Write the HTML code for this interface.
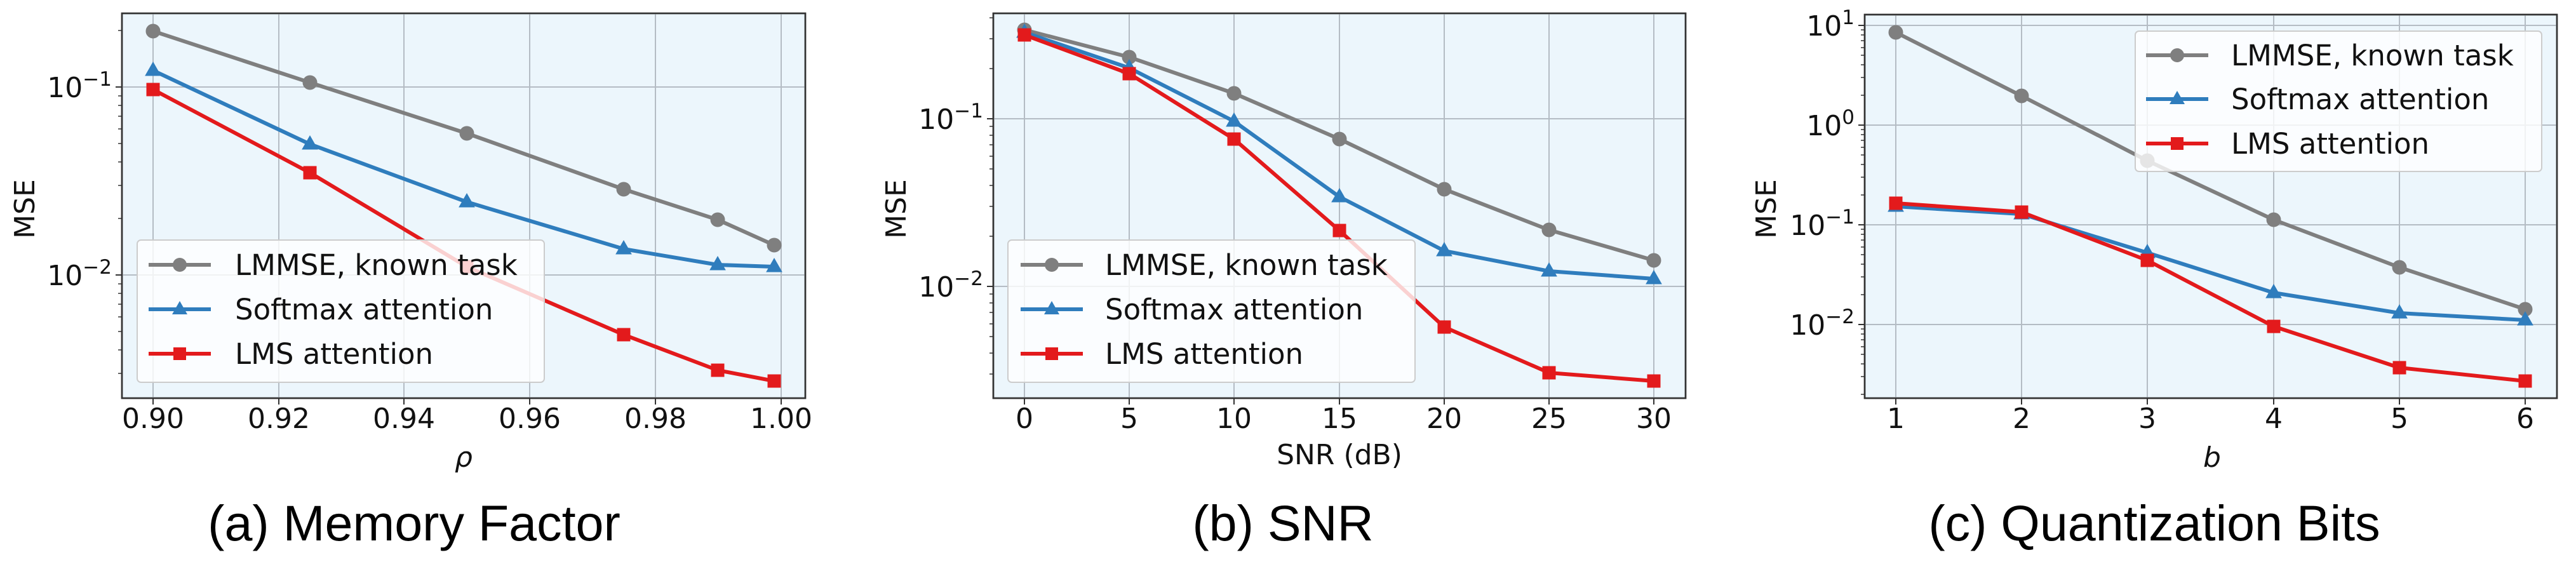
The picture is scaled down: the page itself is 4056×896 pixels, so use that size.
<!DOCTYPE html>
<html><head><meta charset="utf-8"><style>
html,body{margin:0;padding:0;background:#fff;}
svg{display:block}
.t{font-family:"DejaVu Sans",sans-serif;font-size:44px;fill:#111}
.lg{font-family:"DejaVu Sans",sans-serif;font-size:45px;fill:#111}
.ti{font-family:"Liberation Sans",sans-serif;font-size:79px;fill:#000}
.grid{stroke:#b4bcc4;stroke-width:2}
.ax{fill:#ecf6fc;stroke:#333;stroke-width:2.5}
.g{stroke:#7f7f7f;fill:#7f7f7f}
.b{stroke:#2f7dbd;fill:#2f7dbd}
.r{stroke:#e31a1c;fill:#e31a1c}
polyline{fill:none!important;stroke-width:6;stroke-linejoin:round}
.tk{stroke:#333;stroke-width:2}
</style></head><body>
<svg width="4056" height="896" xmlns="http://www.w3.org/2000/svg">
<!-- ===== Panel A ===== -->
<rect class="ax" x="192" y="21" width="1076" height="606"/>
<g class="grid">
<line x1="241" y1="21" x2="241" y2="627"/><line x1="439" y1="21" x2="439" y2="627"/><line x1="636" y1="21" x2="636" y2="627"/><line x1="834" y1="21" x2="834" y2="627"/><line x1="1032" y1="21" x2="1032" y2="627"/><line x1="1230" y1="21" x2="1230" y2="627"/>
<line x1="192" y1="137" x2="1268" y2="137"/><line x1="192" y1="433" x2="1268" y2="433"/>
</g>
<rect x="192" y="21" width="1076" height="606" fill="none" stroke="#333" stroke-width="2.5"/>
<g class="tk">
<line x1="241" y1="627" x2="241" y2="637"/><line x1="439" y1="627" x2="439" y2="637"/><line x1="636" y1="627" x2="636" y2="637"/><line x1="834" y1="627" x2="834" y2="637"/><line x1="1032" y1="627" x2="1032" y2="637"/><line x1="1230" y1="627" x2="1230" y2="637"/>
<line x1="182" y1="137" x2="192" y2="137"/><line x1="182" y1="433" x2="192" y2="433"/>
<g stroke-width="1.5"><line x1="186" y1="48" x2="192" y2="48"/><line x1="186" y1="344" x2="192" y2="344"/><line x1="186" y1="292" x2="192" y2="292"/><line x1="186" y1="255" x2="192" y2="255"/><line x1="186" y1="226" x2="192" y2="226"/><line x1="186" y1="203" x2="192" y2="203"/><line x1="186" y1="183" x2="192" y2="183"/><line x1="186" y1="166" x2="192" y2="166"/><line x1="186" y1="151" x2="192" y2="151"/><line x1="186" y1="588" x2="192" y2="588"/><line x1="186" y1="551" x2="192" y2="551"/><line x1="186" y1="522" x2="192" y2="522"/><line x1="186" y1="499" x2="192" y2="499"/><line x1="186" y1="479" x2="192" y2="479"/><line x1="186" y1="462" x2="192" y2="462"/><line x1="186" y1="447" x2="192" y2="447"/></g>
</g>
<g class="t" text-anchor="middle">
<text x="241" y="674">0.90</text><text x="439" y="674">0.92</text><text x="636" y="674">0.94</text><text x="834" y="674">0.96</text><text x="1032" y="674">0.98</text><text x="1230" y="674">1.00</text>
</g>
<g class="t" text-anchor="end">
<text x="176" y="153">10<tspan font-size="31" dy="-18">−1</tspan></text>
<text x="176" y="449">10<tspan font-size="31" dy="-18">−2</tspan></text>
</g>
<text class="t" transform="translate(54,329) rotate(-90)" text-anchor="middle">MSE</text>
<text class="t" x="730" y="735" text-anchor="middle" font-style="italic">ρ</text>
<text class="ti" x="652" y="851" text-anchor="middle">(a) Memory Factor</text>
<polyline class="g" points="241,49 488,130 735,210 982,298 1130,346 1219,386"/>
<g class="g"><circle cx="241" cy="49" r="11"/><circle cx="488" cy="130" r="11"/><circle cx="735" cy="210" r="11"/><circle cx="982" cy="298" r="11"/><circle cx="1130" cy="346" r="11"/><circle cx="1219" cy="386" r="11"/></g>
<polyline class="b" points="241,111 488,227 735,318 982,392 1130,417 1219,420"/>
<g class="b"><path d="M241,98 l12,21 h-24z"/><path d="M488,214 l12,21 h-24z"/><path d="M735,305 l12,21 h-24z"/><path d="M982,379 l12,21 h-24z"/><path d="M1130,404 l12,21 h-24z"/><path d="M1219,407 l12,21 h-24z"/></g>
<polyline class="r" points="241,141 488,272 735,420 982,527 1130,583 1219,600"/>
<g class="r"><rect x="231" y="131" width="20" height="20"/><rect x="478" y="262" width="20" height="20"/><rect x="725" y="410" width="20" height="20"/><rect x="972" y="517" width="20" height="20"/><rect x="1120" y="573" width="20" height="20"/><rect x="1209" y="590" width="20" height="20"/></g>
<rect x="216" y="378" width="641" height="224" rx="6" fill="#fff" fill-opacity="0.8" stroke="#ccc" stroke-width="2"/>
<line x1="234" y1="417" x2="332" y2="417" stroke="#7f7f7f" stroke-width="6"/><circle cx="283" cy="417" r="11" fill="#7f7f7f"/>
<line x1="234" y1="487" x2="332" y2="487" stroke="#2f7dbd" stroke-width="6"/><path d="M283,474 l12,21 h-24z" fill="#2f7dbd"/>
<line x1="234" y1="557" x2="332" y2="557" stroke="#e31a1c" stroke-width="6"/><rect x="273" y="547" width="20" height="20" fill="#e31a1c"/>
<g class="lg"><text x="370" y="433">LMMSE, known task</text><text x="370" y="503">Softmax attention</text><text x="370" y="573">LMS attention</text></g>

<!-- ===== Panel B ===== -->
<rect class="ax" x="1564" y="21" width="1090" height="606"/>
<g class="grid">
<line x1="1613" y1="21" x2="1613" y2="627"/><line x1="1778" y1="21" x2="1778" y2="627"/><line x1="1943" y1="21" x2="1943" y2="627"/><line x1="2109" y1="21" x2="2109" y2="627"/><line x1="2274" y1="21" x2="2274" y2="627"/><line x1="2439" y1="21" x2="2439" y2="627"/><line x1="2604" y1="21" x2="2604" y2="627"/>
<line x1="1564" y1="187" x2="2654" y2="187"/><line x1="1564" y1="451" x2="2654" y2="451"/>
</g>
<rect x="1564" y="21" width="1090" height="606" fill="none" stroke="#333" stroke-width="2.5"/>
<g class="tk">
<line x1="1613" y1="627" x2="1613" y2="637"/><line x1="1778" y1="627" x2="1778" y2="637"/><line x1="1943" y1="627" x2="1943" y2="637"/><line x1="2109" y1="627" x2="2109" y2="637"/><line x1="2274" y1="627" x2="2274" y2="637"/><line x1="2439" y1="627" x2="2439" y2="637"/><line x1="2604" y1="627" x2="2604" y2="637"/>
<line x1="1554" y1="187" x2="1564" y2="187"/><line x1="1554" y1="451" x2="1564" y2="451"/>
<g stroke-width="1.5"><line x1="1558" y1="108" x2="1564" y2="108"/><line x1="1558" y1="61" x2="1564" y2="61"/><line x1="1558" y1="28" x2="1564" y2="28"/><line x1="1558" y1="372" x2="1564" y2="372"/><line x1="1558" y1="325" x2="1564" y2="325"/><line x1="1558" y1="292" x2="1564" y2="292"/><line x1="1558" y1="266" x2="1564" y2="266"/><line x1="1558" y1="246" x2="1564" y2="246"/><line x1="1558" y1="228" x2="1564" y2="228"/><line x1="1558" y1="213" x2="1564" y2="213"/><line x1="1558" y1="199" x2="1564" y2="199"/><line x1="1558" y1="589" x2="1564" y2="589"/><line x1="1558" y1="556" x2="1564" y2="556"/><line x1="1558" y1="530" x2="1564" y2="530"/><line x1="1558" y1="510" x2="1564" y2="510"/><line x1="1558" y1="492" x2="1564" y2="492"/><line x1="1558" y1="477" x2="1564" y2="477"/><line x1="1558" y1="463" x2="1564" y2="463"/></g>
</g>
<g class="t" text-anchor="middle">
<text x="1613" y="674">0</text><text x="1778" y="674">5</text><text x="1943" y="674">10</text><text x="2109" y="674">15</text><text x="2274" y="674">20</text><text x="2439" y="674">25</text><text x="2604" y="674">30</text>
</g>
<g class="t" text-anchor="end">
<text x="1548" y="203">10<tspan font-size="31" dy="-18">−1</tspan></text>
<text x="1548" y="467">10<tspan font-size="31" dy="-18">−2</tspan></text>
</g>
<text class="t" transform="translate(1426,329) rotate(-90)" text-anchor="middle">MSE</text>
<text class="t" x="2109" y="731" text-anchor="middle">SNR (dB)</text>
<text class="ti" x="2020" y="851" text-anchor="middle">(b) SNR</text>
<polyline class="g" points="1613,47 1778,90 1943,147 2109,219 2274,298 2439,362 2604,410"/>
<g class="g"><circle cx="1613" cy="47" r="11"/><circle cx="1778" cy="90" r="11"/><circle cx="1943" cy="147" r="11"/><circle cx="2109" cy="219" r="11"/><circle cx="2274" cy="298" r="11"/><circle cx="2439" cy="362" r="11"/><circle cx="2604" cy="410" r="11"/></g>
<polyline class="b" points="1613,51 1778,107 1943,191 2109,310 2274,395 2439,427 2604,439"/>
<g class="b"><path d="M1613,38 l12,21 h-24z"/><path d="M1778,94 l12,21 h-24z"/><path d="M1943,178 l12,21 h-24z"/><path d="M2109,297 l12,21 h-24z"/><path d="M2274,382 l12,21 h-24z"/><path d="M2439,414 l12,21 h-24z"/><path d="M2604,426 l12,21 h-24z"/></g>
<polyline class="r" points="1613,55 1778,116 1943,219 2109,363 2274,515 2439,587 2604,600"/>
<g class="r"><rect x="1603" y="45" width="20" height="20"/><rect x="1768" y="106" width="20" height="20"/><rect x="1933" y="209" width="20" height="20"/><rect x="2099" y="353" width="20" height="20"/><rect x="2264" y="505" width="20" height="20"/><rect x="2429" y="577" width="20" height="20"/><rect x="2594" y="590" width="20" height="20"/></g>
<rect x="1587" y="378" width="641" height="224" rx="6" fill="#fff" fill-opacity="0.8" stroke="#ccc" stroke-width="2"/>
<line x1="1607" y1="417" x2="1705" y2="417" stroke="#7f7f7f" stroke-width="6"/><circle cx="1656" cy="417" r="11" fill="#7f7f7f"/>
<line x1="1607" y1="487" x2="1705" y2="487" stroke="#2f7dbd" stroke-width="6"/><path d="M1656,474 l12,21 h-24z" fill="#2f7dbd"/>
<line x1="1607" y1="557" x2="1705" y2="557" stroke="#e31a1c" stroke-width="6"/><rect x="1646" y="547" width="20" height="20" fill="#e31a1c"/>
<g class="lg"><text x="1740" y="433">LMMSE, known task</text><text x="1740" y="503">Softmax attention</text><text x="1740" y="573">LMS attention</text></g>

<!-- ===== Panel C ===== -->
<rect class="ax" x="2936" y="23" width="1090" height="604"/>
<g class="grid">
<line x1="2985" y1="23" x2="2985" y2="627"/><line x1="3183" y1="23" x2="3183" y2="627"/><line x1="3381" y1="23" x2="3381" y2="627"/><line x1="3580" y1="23" x2="3580" y2="627"/><line x1="3778" y1="23" x2="3778" y2="627"/><line x1="3976" y1="23" x2="3976" y2="627"/>
<line x1="2936" y1="40" x2="4026" y2="40"/><line x1="2936" y1="197" x2="4026" y2="197"/><line x1="2936" y1="354" x2="4026" y2="354"/><line x1="2936" y1="511" x2="4026" y2="511"/>
</g>
<rect x="2936" y="23" width="1090" height="604" fill="none" stroke="#333" stroke-width="2.5"/>
<g class="tk">
<line x1="2985" y1="627" x2="2985" y2="637"/><line x1="3183" y1="627" x2="3183" y2="637"/><line x1="3381" y1="627" x2="3381" y2="637"/><line x1="3580" y1="627" x2="3580" y2="637"/><line x1="3778" y1="627" x2="3778" y2="637"/><line x1="3976" y1="627" x2="3976" y2="637"/>
<line x1="2926" y1="40" x2="2936" y2="40"/><line x1="2926" y1="197" x2="2936" y2="197"/><line x1="2926" y1="354" x2="2936" y2="354"/><line x1="2926" y1="511" x2="2936" y2="511"/>
<g stroke-width="1.5"><line x1="2930" y1="150" x2="2936" y2="150"/><line x1="2930" y1="122" x2="2936" y2="122"/><line x1="2930" y1="102" x2="2936" y2="102"/><line x1="2930" y1="87" x2="2936" y2="87"/><line x1="2930" y1="75" x2="2936" y2="75"/><line x1="2930" y1="64" x2="2936" y2="64"/><line x1="2930" y1="55" x2="2936" y2="55"/><line x1="2930" y1="47" x2="2936" y2="47"/><line x1="2930" y1="307" x2="2936" y2="307"/><line x1="2930" y1="279" x2="2936" y2="279"/><line x1="2930" y1="259" x2="2936" y2="259"/><line x1="2930" y1="244" x2="2936" y2="244"/><line x1="2930" y1="232" x2="2936" y2="232"/><line x1="2930" y1="221" x2="2936" y2="221"/><line x1="2930" y1="212" x2="2936" y2="212"/><line x1="2930" y1="204" x2="2936" y2="204"/><line x1="2930" y1="464" x2="2936" y2="464"/><line x1="2930" y1="436" x2="2936" y2="436"/><line x1="2930" y1="416" x2="2936" y2="416"/><line x1="2930" y1="401" x2="2936" y2="401"/><line x1="2930" y1="389" x2="2936" y2="389"/><line x1="2930" y1="378" x2="2936" y2="378"/><line x1="2930" y1="369" x2="2936" y2="369"/><line x1="2930" y1="361" x2="2936" y2="361"/><line x1="2930" y1="621" x2="2936" y2="621"/><line x1="2930" y1="593" x2="2936" y2="593"/><line x1="2930" y1="573" x2="2936" y2="573"/><line x1="2930" y1="558" x2="2936" y2="558"/><line x1="2930" y1="546" x2="2936" y2="546"/><line x1="2930" y1="535" x2="2936" y2="535"/><line x1="2930" y1="526" x2="2936" y2="526"/><line x1="2930" y1="518" x2="2936" y2="518"/></g>
</g>
<g class="t" text-anchor="middle">
<text x="2985" y="674">1</text><text x="3183" y="674">2</text><text x="3381" y="674">3</text><text x="3580" y="674">4</text><text x="3778" y="674">5</text><text x="3976" y="674">6</text>
</g>
<g class="t" text-anchor="end">
<text x="2920" y="56">10<tspan font-size="31" dy="-18">1</tspan></text>
<text x="2920" y="213">10<tspan font-size="31" dy="-18">0</tspan></text>
<text x="2920" y="370">10<tspan font-size="31" dy="-18">−1</tspan></text>
<text x="2920" y="527">10<tspan font-size="31" dy="-18">−2</tspan></text>
</g>
<text class="t" transform="translate(2796,329) rotate(-90)" text-anchor="middle">MSE</text>
<text class="t" x="3483" y="735" text-anchor="middle" font-style="italic">b</text>
<text class="ti" x="3392" y="851" text-anchor="middle">(c) Quantization Bits</text>
<polyline class="g" points="2985,51 3183,151 3381,253 3580,346 3778,421 3976,487"/>
<g class="g"><circle cx="2985" cy="51" r="11"/><circle cx="3183" cy="151" r="11"/><circle cx="3381" cy="253" r="11"/><circle cx="3580" cy="346" r="11"/><circle cx="3778" cy="421" r="11"/><circle cx="3976" cy="487" r="11"/></g>
<polyline class="b" points="2985,325 3183,337 3381,398 3580,461 3778,493 3976,504"/>
<g class="b"><path d="M2985,312 l12,21 h-24z"/><path d="M3183,324 l12,21 h-24z"/><path d="M3381,385 l12,21 h-24z"/><path d="M3580,448 l12,21 h-24z"/><path d="M3778,480 l12,21 h-24z"/><path d="M3976,491 l12,21 h-24z"/></g>
<polyline class="r" points="2985,320 3183,334 3381,410 3580,514 3778,579 3976,600"/>
<g class="r"><rect x="2975" y="310" width="20" height="20"/><rect x="3173" y="324" width="20" height="20"/><rect x="3371" y="400" width="20" height="20"/><rect x="3570" y="504" width="20" height="20"/><rect x="3768" y="569" width="20" height="20"/><rect x="3966" y="590" width="20" height="20"/></g>
<rect x="3362" y="49" width="640" height="221" rx="6" fill="#fff" fill-opacity="0.8" stroke="#ccc" stroke-width="2"/>
<line x1="3379" y1="87" x2="3477" y2="87" stroke="#7f7f7f" stroke-width="6"/><circle cx="3428" cy="87" r="11" fill="#7f7f7f"/>
<line x1="3379" y1="156" x2="3477" y2="156" stroke="#2f7dbd" stroke-width="6"/><path d="M3428,143 l12,21 h-24z" fill="#2f7dbd"/>
<line x1="3379" y1="226" x2="3477" y2="226" stroke="#e31a1c" stroke-width="6"/><rect x="3418" y="216" width="20" height="20" fill="#e31a1c"/>
<g class="lg"><text x="3513" y="103">LMMSE, known task</text><text x="3513" y="172">Softmax attention</text><text x="3513" y="242">LMS attention</text></g>
</svg>
</body></html>
